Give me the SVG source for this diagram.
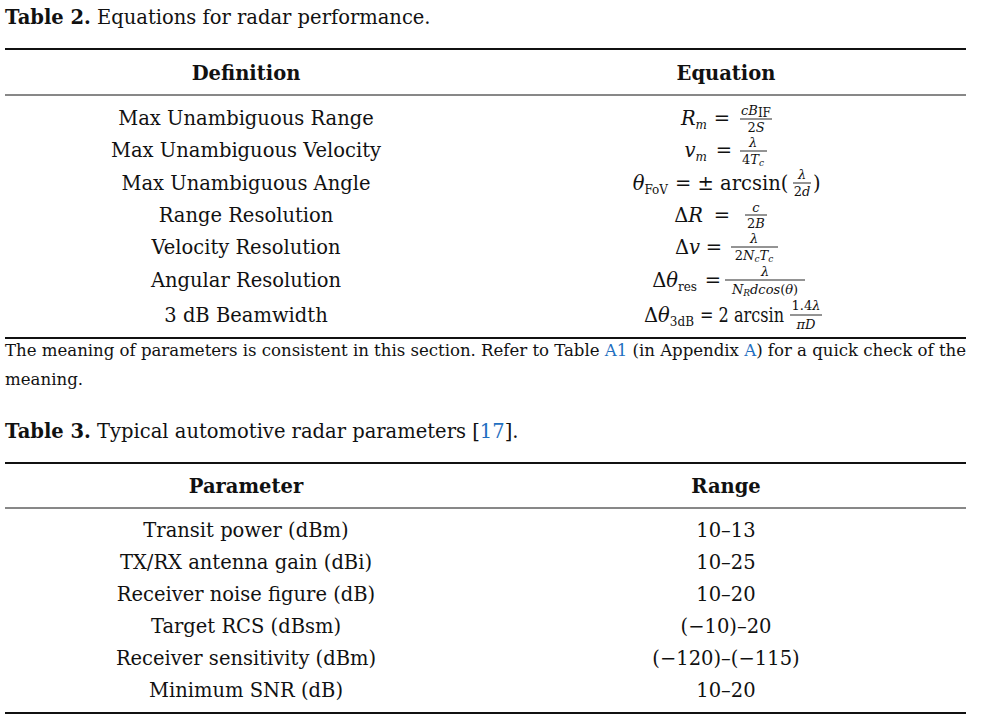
<svg xmlns="http://www.w3.org/2000/svg" width="985" height="728" viewBox="0 0 985 728">
<style>
text{font-family:"DejaVu Serif","Liberation Serif",serif;font-size:19.5px;fill:#111}
.c{text-anchor:middle}
.e{text-anchor:end}
.b{font-weight:bold}
.i{font-style:italic}
.f{font-size:13px}
.s{font-size:12px}
.n{font-size:16.6px}
.lk{fill:#1f6fc0}
.thick{stroke:#111;stroke-width:2}
.thin{stroke:#111;stroke-width:1}
.bar{stroke:#111;stroke-width:0.9}
</style>
<rect width="985" height="728" fill="#fff"/>
<g id="table2">
<text x="5" y="24"><tspan class="b">Table 2.</tspan> Equations for radar performance.</text>
<line class="thick" x1="5" y1="49" x2="966" y2="49"/>
<line class="thin" x1="5" y1="95" x2="966" y2="95"/>
<line class="thick" x1="5" y1="338" x2="966" y2="338"/>
<text class="c b" x="246" y="80">Definition</text>
<text class="c b" x="726" y="80">Equation</text>
<text class="c" x="246" y="125">Max Unambiguous Range</text>
<text class="c" x="246" y="157">Max Unambiguous Velocity</text>
<text class="c" x="246" y="190">Max Unambiguous Angle</text>
<text class="c" x="246" y="222">Range Resolution</text>
<text class="c" x="246" y="254">Velocity Resolution</text>
<text class="c" x="246" y="287">Angular Resolution</text>
<text class="c" x="246" y="322">3 dB Beamwidth</text>

<text class="e" x="707" y="125"><tspan class="i">R</tspan><tspan class="i s" dy="4">m</tspan></text>
<text class="c" x="722" y="125">=</text>
<text class="c f" x="756" y="115"><tspan class="i">cB</tspan><tspan class="s" font-size="9" dy="2">IF</tspan></text>
<line class="bar" x1="740" y1="119" x2="772" y2="119"/>
<text class="c f" x="756" y="132">2<tspan class="i">S</tspan></text>

<text class="e" x="707" y="157"><tspan class="i">v</tspan><tspan class="i s" dy="4">m</tspan></text>
<text class="c" x="724" y="157">=</text>
<text class="c f i" x="753" y="147">λ</text>
<line class="bar" x1="740" y1="151" x2="767" y2="151"/>
<text class="c f" x="753" y="164">4<tspan class="i">T</tspan><tspan class="i" font-size="9" dy="2">c</tspan></text>

<text class="e" x="668" y="190"><tspan class="i">θ</tspan><tspan class="s" dy="4">FoV</tspan></text>
<text x="675" y="190">= ± arcsin(</text>
<text class="c f i" x="802" y="179">λ</text>
<line class="bar" x1="793" y1="183" x2="811" y2="183"/>
<text class="c f" x="802" y="196">2<tspan class="i">d</tspan></text>
<text x="813" y="190">)</text>

<text class="e" x="703" y="222">Δ<tspan class="i">R</tspan></text>
<text class="c" x="722" y="222">=</text>
<text class="c f i" x="756" y="212">c</text>
<line class="bar" x1="745" y1="215" x2="767" y2="215"/>
<text class="c f" x="756" y="228">2<tspan class="i">B</tspan></text>

<text class="e" x="700" y="254">Δ<tspan class="i">v</tspan></text>
<text class="c" x="714" y="254">=</text>
<text class="c f i" x="754" y="243">λ</text>
<line class="bar" x1="731" y1="247" x2="778" y2="247"/>
<text class="c f" x="754" y="260">2<tspan class="i">N</tspan><tspan class="i" font-size="9" dy="2">c</tspan><tspan class="i" dy="-2">T</tspan><tspan class="i" font-size="9" dy="2">c</tspan></text>

<text class="e" x="697" y="287">Δ<tspan class="i">θ</tspan><tspan class="s" dy="4">res</tspan></text>
<text class="c" x="713" y="287">=</text>
<text class="c f i" x="765" y="276">λ</text>
<line class="bar" x1="725" y1="280" x2="805" y2="280"/>
<text class="c f i" x="765" y="294">N<tspan font-size="9" dy="2">R</tspan><tspan dy="-2">dcos</tspan><tspan font-style="normal">(</tspan>θ<tspan font-style="normal">)</tspan></text>

<text class="e" x="694" y="322">Δ<tspan class="i">θ</tspan><tspan class="s" dy="4">3dB</tspan></text>
<text x="700" y="322" textLength="84" lengthAdjust="spacingAndGlyphs">= 2 arcsin</text>
<text class="c f" x="806" y="310">1.4<tspan class="i">λ</tspan></text>
<line class="bar" x1="790" y1="315" x2="822" y2="315"/>
<text class="c f i" x="806" y="329">πD</text>

<text class="n" x="5" y="356" textLength="961" lengthAdjust="spacing">The meaning of parameters is consistent in this section. Refer to Table <tspan class="lk">A1</tspan> (in Appendix <tspan class="lk">A</tspan>) for a quick check of the</text>
<text class="n" x="5" y="385">meaning.</text>
</g>
<g id="table3">
<text x="5" y="438"><tspan class="b">Table 3.</tspan> Typical automotive radar parameters [<tspan class="lk">17</tspan>].</text>
<line class="thick" x1="5" y1="463" x2="966" y2="463"/>
<line class="thin" x1="5" y1="508" x2="966" y2="508"/>
<line class="thick" x1="5" y1="713" x2="966" y2="713"/>
<text class="c b" x="246" y="493">Parameter</text>
<text class="c b" x="726" y="493">Range</text>
<text class="c" x="246" y="537">Transit power (dBm)</text>
<text class="c" x="246" y="569">TX/RX antenna gain (dBi)</text>
<text class="c" x="246" y="601">Receiver noise figure (dB)</text>
<text class="c" x="246" y="633">Target RCS (dBsm)</text>
<text class="c" x="246" y="665">Receiver sensitivity (dBm)</text>
<text class="c" x="246" y="697">Minimum SNR (dB)</text>
<text class="c" x="726" y="537">10–13</text>
<text class="c" x="726" y="569">10–25</text>
<text class="c" x="726" y="601">10–20</text>
<text class="c" x="726" y="633">(−10)–20</text>
<text class="c" x="726" y="665">(−120)–(−115)</text>
<text class="c" x="726" y="697">10–20</text>
</g>
</svg>
